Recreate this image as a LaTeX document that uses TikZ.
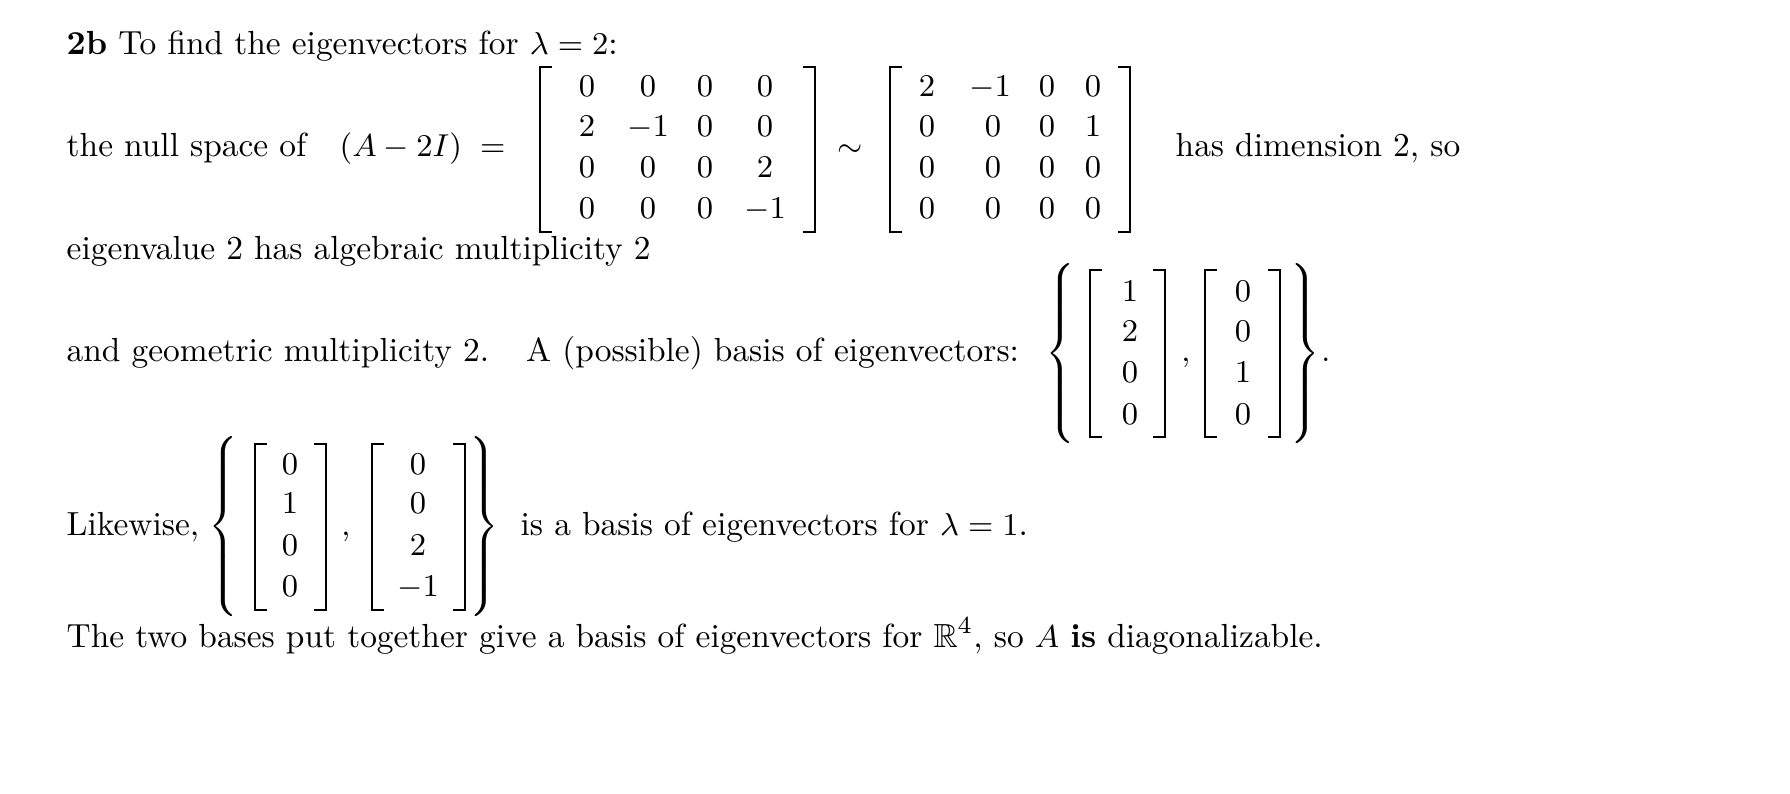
\documentclass[tikz,border=0pt]{standalone}
\usepackage{amsmath,amssymb}
\begin{document}
\begin{tikzpicture}[x=0.01cm,y=-0.01cm,
  txt/.style={anchor=base west,inner sep=0pt,font=\fontsize{9.5}{11.5}\selectfont},
  ent/.style={anchor=base,inner sep=0pt,font=\fontsize{9.5}{11.5}\selectfont},
  brk/.style={line width=0.65pt}]
\useasboundingbox (0,0) rectangle (1790,794);
\node[txt] (t1) at (66,55) {\textbf{2b} To find the eigenvectors for $\lambda=2$:};
\node[txt] (t2) at (66,157) {the null space of \ \ $(A-2I)\;=$};
% matrix 1
\draw[brk] (552,67) -- (540,67) -- (540,232) -- (552,232);
\draw[brk] (803,67) -- (815,67) -- (815,232) -- (803,232);
\node[ent] (a11) at (587,97) {$0$}; \node[ent] (a12) at (648,97) {$0$}; \node[ent] (a13) at (705,97) {$0$}; \node[ent] (a14) at (765,97) {$0$};
\node[ent] (a21) at (587,137) {$2$}; \node[ent] (a22) at (648,137) {$-1$}; \node[ent] (a23) at (705,137) {$0$}; \node[ent] (a24) at (765,137) {$0$};
\node[ent] (a31) at (587,178) {$0$}; \node[ent] (a32) at (648,178) {$0$}; \node[ent] (a33) at (705,178) {$0$}; \node[ent] (a34) at (765,178) {$2$};
\node[ent] (a41) at (587,219) {$0$}; \node[ent] (a42) at (648,219) {$0$}; \node[ent] (a43) at (705,219) {$0$}; \node[ent] (a44) at (765,219) {$-1$};
\node[ent] (sim) at (850,157) {$\sim$};
% matrix 2
\draw[brk] (902,67) -- (890,67) -- (890,232) -- (902,232);
\draw[brk] (1118,67) -- (1130,67) -- (1130,232) -- (1118,232);
\node[ent] (b11) at (927,97) {$2$}; \node[ent] (b12) at (990,97) {$-1$}; \node[ent] (b13) at (1047,97) {$0$}; \node[ent] (b14) at (1093,97) {$0$};
\node[ent] (b21) at (927,137) {$0$}; \node[ent] (b22) at (993,137) {$0$}; \node[ent] (b23) at (1047,137) {$0$}; \node[ent] (b24) at (1093,137) {$1$};
\node[ent] (b31) at (927,178) {$0$}; \node[ent] (b32) at (993,178) {$0$}; \node[ent] (b33) at (1047,178) {$0$}; \node[ent] (b34) at (1093,178) {$0$};
\node[ent] (b41) at (927,219) {$0$}; \node[ent] (b42) at (993,219) {$0$}; \node[ent] (b43) at (1047,219) {$0$}; \node[ent] (b44) at (1093,219) {$0$};
\node[txt] (t3) at (1175,157) {has dimension 2, so};
\node[txt] (t4) at (66,260) {eigenvalue 2 has algebraic multiplicity 2};
\node[txt] (t5) at (66,362) {and geometric multiplicity 2. \ \ A (possible) basis of eigenvectors:};
% basis 1
\node[ent,anchor=center] (lb1) at (1062,355) {$\left\{\vrule height 0.85cm depth 0.85cm width 0pt\right.$};
\node[ent,anchor=center] (rb1) at (1303,355) {$\left.\vrule height 0.85cm depth 0.85cm width 0pt\right\}$};
\draw[brk] (1102,270) -- (1090,270) -- (1090,437) -- (1102,437);
\draw[brk] (1153,270) -- (1165,270) -- (1165,437) -- (1153,437);
\draw[brk] (1217,270) -- (1205,270) -- (1205,437) -- (1217,437);
\draw[brk] (1268,270) -- (1280,270) -- (1280,437) -- (1268,437);
\node[ent] (c1) at (1130,302) {$1$}; \node[ent] (c2) at (1130,342) {$2$}; \node[ent] (c3) at (1130,383) {$0$}; \node[ent] (c4) at (1130,424) {$0$};
\node[ent] (d1) at (1243,302) {$0$}; \node[ent] (d2) at (1243,342) {$0$}; \node[ent] (d3) at (1243,383) {$1$}; \node[ent] (d4) at (1243,424) {$0$};
\node[ent] (cm1) at (1186,362) {$,$};
\node[ent] (pd1) at (1326,362) {$.$};
% basis 2
\node[txt] (t6) at (66,535) {Likewise,};
\node[ent,anchor=center] (lb2) at (225,528) {$\left\{\vrule height 0.85cm depth 0.85cm width 0pt\right.$};
\node[ent,anchor=center] (rb2) at (482,528) {$\left.\vrule height 0.85cm depth 0.85cm width 0pt\right\}$};
\draw[brk] (267,444) -- (255,444) -- (255,610) -- (267,610);
\draw[brk] (314,444) -- (326,444) -- (326,610) -- (314,610);
\draw[brk] (384,444) -- (372,444) -- (372,610) -- (384,610);
\draw[brk] (453,444) -- (465,444) -- (465,610) -- (453,610);
\node[ent] (e1) at (290,474) {$0$}; \node[ent] (e2) at (290,514) {$1$}; \node[ent] (e3) at (290,555) {$0$}; \node[ent] (e4) at (290,596) {$0$};
\node[ent] (f1) at (418,474) {$0$}; \node[ent] (f2) at (418,514) {$0$}; \node[ent] (f3) at (418,555) {$2$}; \node[ent] (f4) at (418,596) {$-1$};
\node[ent] (cm2) at (346,535) {$,$};
\node[txt] (t7) at (520,535) {is a basis of eigenvectors for $\lambda=1$.};
\node[txt] (t8) at (66,647) {The two bases put together give a basis of eigenvectors for $\mathbb{R}^4$, so $A$ \textbf{is} diagonalizable.};
\end{tikzpicture}
\end{document}
